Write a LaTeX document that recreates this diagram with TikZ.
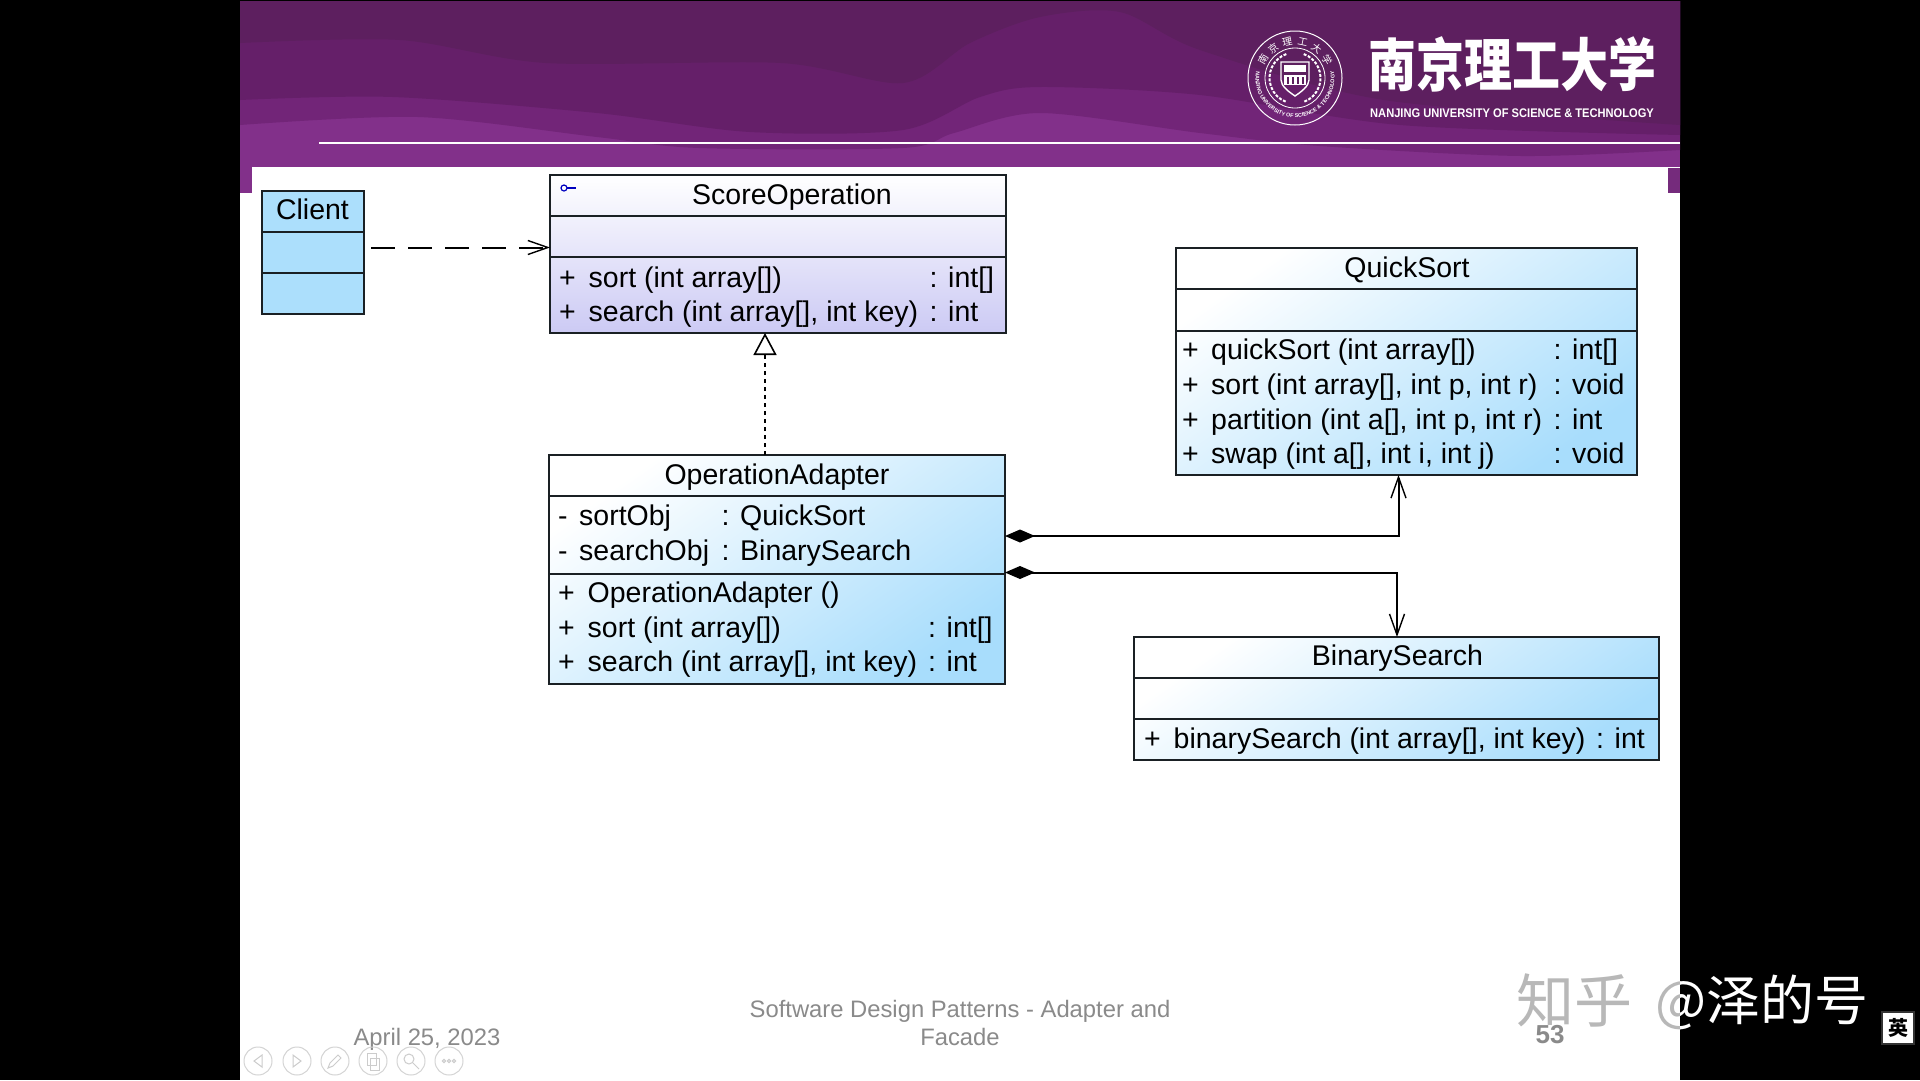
\documentclass[tikz,border=0pt]{standalone}
\usepackage{fontspec}
\setmainfont{Liberation Sans}
\newfontfamily\cjk{Noto Sans CJK SC}
\usetikzlibrary{arrows.meta,decorations.text}
\definecolor{hdrbase}{HTML}{82308A}
\definecolor{hdrd}{HTML}{722578}
\definecolor{hdrc}{HTML}{651F69}
\definecolor{hdrb}{HTML}{5D1F5F}
\definecolor{umlline}{HTML}{1A2024}
\definecolor{umlblue}{HTML}{A8DDFC}
\definecolor{umlviolet}{HTML}{CCCAF4}
\definecolor{footgray}{HTML}{8A8A8A}
\begin{document}
\begin{tikzpicture}[
x=1pt,y=-1pt,
bluebox/.style={draw=umlline,line width=1.8,inner sep=0,outer sep=0,shade,top color=white,bottom color=umlblue,shading angle=35},
violetbox/.style={bluebox,bottom color=umlviolet},
flatbox/.style={draw=umlline,line width=1.8,inner sep=0,outer sep=0,fill=umlblue!95!white},
sep/.style={draw=umlline,line width=1.8},
title/.style={anchor=base,inner sep=0,font=\fontsize{28.5}{30}\selectfont,text=black},
member/.style={anchor=base west,inner sep=0,font=\fontsize{28.5}{30}\selectfont,text=black},
foot/.style={anchor=base,inner sep=0,font=\fontsize{23.8}{26}\selectfont,text=footgray},
depend/.style={draw=black,line width=2,dash pattern=on 24pt off 13pt,-{Straight Barb[length=20,width=14,line width=1.4]}},
realize/.style={draw=black,line width=1.6,dash pattern=on 4pt off 4pt,-{Triangle[open,length=22,width=23,line width=1.6]}},
compose/.style={draw=black,line width=2,{Diamond[length=30,width=13]}-{Straight Barb[length=21,width=15,line width=1.4]}},
icon/.style={circle,draw=black!17,line width=1,minimum size=28,inner sep=0,outer sep=0},
glyph/.style={draw=black!20,line width=1},
]
\useasboundingbox(0,0)rectangle(1920,1080);
\fill[black](0,0)rectangle(1920,1080);
\fill[white](240,1)rectangle(1680,1080);

%header
\fill[hdrbase](240,1)rectangle(1680,167);
\fill[hdrbase](240,167)rectangle(252,193);
\fill[hdrbase!90!black](1668,168)rectangle(1680,193);
\fill[hdrd](240,1)--(240,125)--plot[smooth]coordinates{(240,125)(418,117)(597,137)(699,148)(903,148)(954,133)(1040,113)(1200,133)(1320,146)(1521,156)(1680,150)}--(1680,1)--cycle;
\fill[hdrc](240,1)--(240,100)--plot[smooth]coordinates{(240,100)(393,97)(597,113)(750,132)(903,130)(980,97)(1040,87)(1200,95)(1400,125)(1680,135)}--(1680,1)--cycle;
\fill[hdrb](240,1)--(240,43)--plot[smooth]coordinates{(240,43)(400,40)(546,63)(781,63)(903,83)(970,43)(1040,17)(1120,12)(1200,50)(1384,100)(1680,125)}--(1680,1)--cycle;
\draw[white,line width=1.8](319,143)--(1680,143);

%seal
\begin{scope}[shift={(1295,78)},x=1pt,y=1pt]
\draw[white,line width=1](0,0)circle(47);
\draw[white,line width=0.8](0,0)circle(30);
\path[decorate,decoration={text along path,text align=center,text={|\fontsize{5.4}{6}\selectfont\bfseries\color{white}|NANJING UNIVERSITY OF SCIENCE {\&} TECHNOLOGY}}](170:39.5)arc(170:370:39.5);
\foreach\ch[count=\i]in{南,京,理,工,大,学}{
\node[inner sep=0,text=white,font=\cjk\fontsize{10}{10}\selectfont,rotate={150-24*(\i-1)-90}](seal\i)at({150-24*(\i-1)}:37){\ch};
}
\draw[white,line width=2,dash pattern=on 3pt off 1.5pt](110:25.5)arc(110:250:25.5);
\draw[white,line width=2,dash pattern=on 3pt off 1.5pt](70:25.5)arc(70:-70:25.5);
\draw[white,line width=1.4](-14,-2)--(-14,16)--(14,16)--(14,-2)..controls(14,-8)and(6,-14)..(0,-18)..controls(-6,-14)and(-14,-8)..(-14,-2);
\fill[white](-11,13)rectangle(11,6);
\fill[white](-11,3)rectangle(11,-7);
\foreach\bx in{-7,-2,3,8}{\fill[hdrb](\bx-1.2,1)rectangle(\bx+1.2,-6);}
\end{scope}

%logo
\node[inner sep=0,text=white,yscale=1.2,anchor=base west,font=\cjk\bfseries\fontsize{48}{50}\selectfont](logotext)at(1368,86){南京理工大学};
\node[inner sep=0,text=white,xscale=0.89,anchor=base west,font=\bfseries\fontsize{12.5}{14}\selectfont](logoen)at(1370,117){NANJING UNIVERSITY OF SCIENCE \& TECHNOLOGY};

%classes
\node[flatbox,minimum width=102,minimum height=123](client)at(313,252.5){};
\node[violetbox,minimum width=456,minimum height=158](score)at(778,254){};
\node[bluebox,minimum width=456,minimum height=229](adapter)at(777,569.5){};
\node[bluebox,minimum width=461,minimum height=227](quick)at(1406.5,361.5){};
\node[bluebox,minimum width=525,minimum height=123](binary)at(1396.5,698.5){};
\draw[sep](client.west|-0,232)--(client.east|-0,232);
\draw[sep](client.west|-0,273)--(client.east|-0,273);
\draw[sep](score.west|-0,216)--(score.east|-0,216);
\draw[sep](score.west|-0,257)--(score.east|-0,257);
\draw[sep](adapter.west|-0,496)--(adapter.east|-0,496);
\draw[sep](adapter.west|-0,574)--(adapter.east|-0,574);
\draw[sep](quick.west|-0,289)--(quick.east|-0,289);
\draw[sep](quick.west|-0,331)--(quick.east|-0,331);
\draw[sep](binary.west|-0,678)--(binary.east|-0,678);
\draw[sep](binary.west|-0,719)--(binary.east|-0,719);

%client
\node[title](clientname)at(312.5,219){Client};

%score
\draw[blue!75!black,line width=1.2](564,188)circle(3);
\draw[blue!75!black,line width=1.2](567,188)--(576,188);
\node[title](scorename)at(792,204){ScoreOperation};
\node[member](sp1)at(559,287){+};
\node[member](sn1)at(588.5,287){sort (int array[])};
\node[member](st1)at(929.5,287){: int[]};
\node[member](sp2)at(559,321){+};
\node[member](sn2)at(588.5,321){search (int array[], int key)};
\node[member](st2)at(929.5,321){: int};

%adapter
\node[title](adaptername)at(777,484){OperationAdapter};
\node[member](am1)at(558,525){-};
\node[member](an1)at(579,525){sortObj};
\node[member](at1)at(721.5,525){: QuickSort};
\node[member](am2)at(558,560.5){-};
\node[member](an2)at(579,560.5){searchObj};
\node[member](at2)at(721.5,560.5){: BinarySearch};
\node[member](ap1)at(558,602){+};
\node[member](ao1)at(587.5,602){OperationAdapter ()};
\node[member](ap2)at(558,637){+};
\node[member](ao2)at(587.5,637){sort (int array[])};
\node[member](ar2)at(928,637){: int[]};
\node[member](ap3)at(558,671.5){+};
\node[member](ao3)at(587.5,671.5){search (int array[], int key)};
\node[member](ar3)at(928,671.5){: int};

%quick
\node[title](quickname)at(1407,277){QuickSort};
\node[member](qp1)at(1182,359){+};
\node[member](qn1)at(1211,359){quickSort (int array[])};
\node[member](qt1)at(1553.5,359){: int[]};
\node[member](qp2)at(1182,394.5){+};
\node[member](qn2)at(1211,394.5){sort (int array[], int p, int r)};
\node[member](qt2)at(1553.5,394.5){: void};
\node[member](qp3)at(1182,429){+};
\node[member](qn3)at(1211,429){partition (int a[], int p, int r)};
\node[member](qt3)at(1553.5,429){: int};
\node[member](qp4)at(1182,463.5){+};
\node[member](qn4)at(1211,463.5){swap (int a[], int i, int j)};
\node[member](qt4)at(1553.5,463.5){: void};

%binary
\node[title](binaryname)at(1397.5,665){BinarySearch};
\node[member](bp1)at(1144,748){+};
\node[member](bn1)at(1173.5,748){binarySearch (int array[], int key)};
\node[member](bt1)at(1596,748){: int};

%connectors
\draw[depend]([shift={(7pt,5pt)}]client.east)--([yshift=6.5pt]score.west);
\draw[realize]([xshift=-12pt]adapter.north)--([xshift=-13pt]score.south);
\draw[compose]([yshift=33.5pt]adapter.east)-|([xshift=-8pt]quick.south);
\draw[compose]([yshift=-3pt]adapter.east)-|([xshift=0.5pt]binary.north);

%footer
\node[foot](date)at(427,1045){April 25, 2023};
\node[foot](foot1)at(960,1017){Software Design Patterns - Adapter and};
\node[foot](foot2)at(960,1045){Facade};
\node[anchor=base,inner sep=0,text=footgray,font=\bfseries\fontsize{26}{28}\selectfont](page)at(1550,1043){53};

%slide controls
\foreach\ix/\cx in{1/258,2/297,3/335,4/373,5/411,6/449}{
\node[icon](ctl\ix)at(\cx,1061){};
}
\draw[glyph](ctl1.center)++(4,-6)--++(-8,6)--++(8,6)--cycle;
\draw[glyph](ctl2.center)++(-4,-6)--++(8,6)--++(-8,6)--cycle;
\draw[glyph](ctl3.center)++(-7,7)--++(2,-5)--++(8,-8)--++(3,3)--++(-8,8)--cycle;
\draw[glyph](ctl4.center)++(-6,-8)rectangle++(9,12);
\draw[glyph](ctl4.center)++(-3,-3)rectangle++(9,12);
\draw[glyph](ctl5.center)++(-2,-2)circle(5);
\draw[glyph](ctl5.center)++(2,2)--++(6,6);
\foreach\dx in{-5,0,5}{\draw[glyph](ctl6.center)++(\dx,0)circle(1.6);}

%watermark
\node[anchor=base west,inner sep=0,text=black!28,font=\cjk\fontsize{58}{60}\selectfont](zhihu)at(1516,1022){知乎};
\begin{scope}
\clip(1640,960)rectangle(1680,1040);
\node[anchor=base west,inner sep=0,text=black!28,font=\cjk\fontsize{54}{56}\selectfont](atgray)at(1655,1020){@};
\end{scope}
\begin{scope}
\clip(1680,960)rectangle(1720,1040);
\node[anchor=base west,inner sep=0,text=white,font=\cjk\fontsize{54}{56}\selectfont](atwhite)at(1655,1020){@};
\end{scope}
\node[anchor=base west,inner sep=0,text=white,font=\cjk\fontsize{54}{56}\selectfont](zename)at(1706,1020){泽的号};

%input indicator
\node[draw=black!80,line width=2,fill=white,minimum width=32,minimum height=32,inner sep=0,font=\cjk\bfseries\fontsize{20}{20}\selectfont](inputmode)at(1898,1028){英};
\end{tikzpicture}
\end{document}
